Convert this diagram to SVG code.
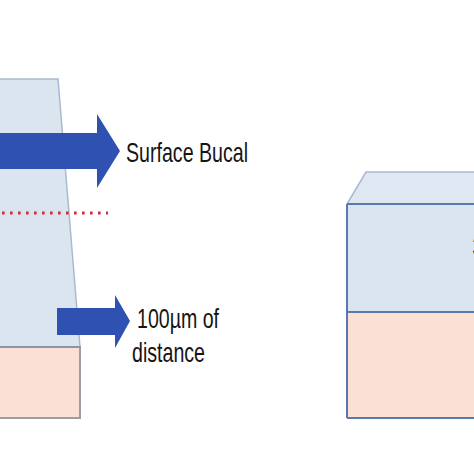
<svg xmlns="http://www.w3.org/2000/svg" width="474" height="474" viewBox="0 0 474 474">
<defs>
<style>
.lbl{font-family:"Liberation Sans",Arial,sans-serif;font-size:28px;fill:#151515}
.arrow{fill:#2f52b2}
.blue{fill:#dbe5f0}
.pink{fill:#fbe0d5}
.edge{fill:none;stroke:#5a78b0;stroke-width:2}
.soft{fill:none;stroke:#a9b9cf;stroke-width:1.5}
</style>
</defs>
<rect width="474" height="474" fill="#ffffff"/>
<g id="left-sample">
<polygon class="blue" points="-2,79 58,79 80,347 -2,347"/>
<polyline class="soft" points="-2,79 58,79 80,347"/>
<rect class="pink" x="-2" y="347" width="82" height="71"/>
<line x1="-2" y1="347" x2="81" y2="347" stroke="#8a96a8" stroke-width="2"/>
<polyline points="80,347 80,418 -2,418" fill="none" stroke="#9a9ca6" stroke-width="2"/>
</g>
<g id="dotted-line">
<line x1="2" y1="213" x2="108" y2="213" stroke="#d42a40" stroke-width="3" stroke-dasharray="2.6 5.4"/>
</g>
<g id="right-box">
<polygon points="347,204 366,172 476,172 476,204" fill="#dfe8f2"/>
<polyline class="soft" points="347,204 366,172 476,172"/>
<rect class="blue" x="347" y="204" width="130" height="108"/>
<rect class="pink" x="347" y="312" width="130" height="106"/>
<line class="edge" x1="347" y1="204" x2="476" y2="204"/>
<line class="edge" x1="347" y1="312" x2="476" y2="312"/>
<line class="edge" x1="347" y1="418" x2="476" y2="418" stroke-width="3"/>
<line class="edge" x1="347" y1="204" x2="347" y2="418"/>
<text class="lbl" x="472" y="256" font-size="32">3</text>
</g>
<g id="connectors">
<polygon class="arrow" points="-2,133 97,133 97,114 120,151 97,188 97,169 -2,169"/>
<polygon class="arrow" points="57,308 115,308 115,295 130,321 115,348 115,335 57,335"/>
</g>
<g id="label-surface">
<text class="lbl" x="126" y="162" textLength="122" lengthAdjust="spacingAndGlyphs">Surface Bucal</text>
</g>
<g id="label-distance">
<text class="lbl" x="137" y="328" textLength="82" lengthAdjust="spacingAndGlyphs">100µm of</text>
<text class="lbl" x="132" y="362" textLength="73" lengthAdjust="spacingAndGlyphs">distance</text>
</g>
</svg>
